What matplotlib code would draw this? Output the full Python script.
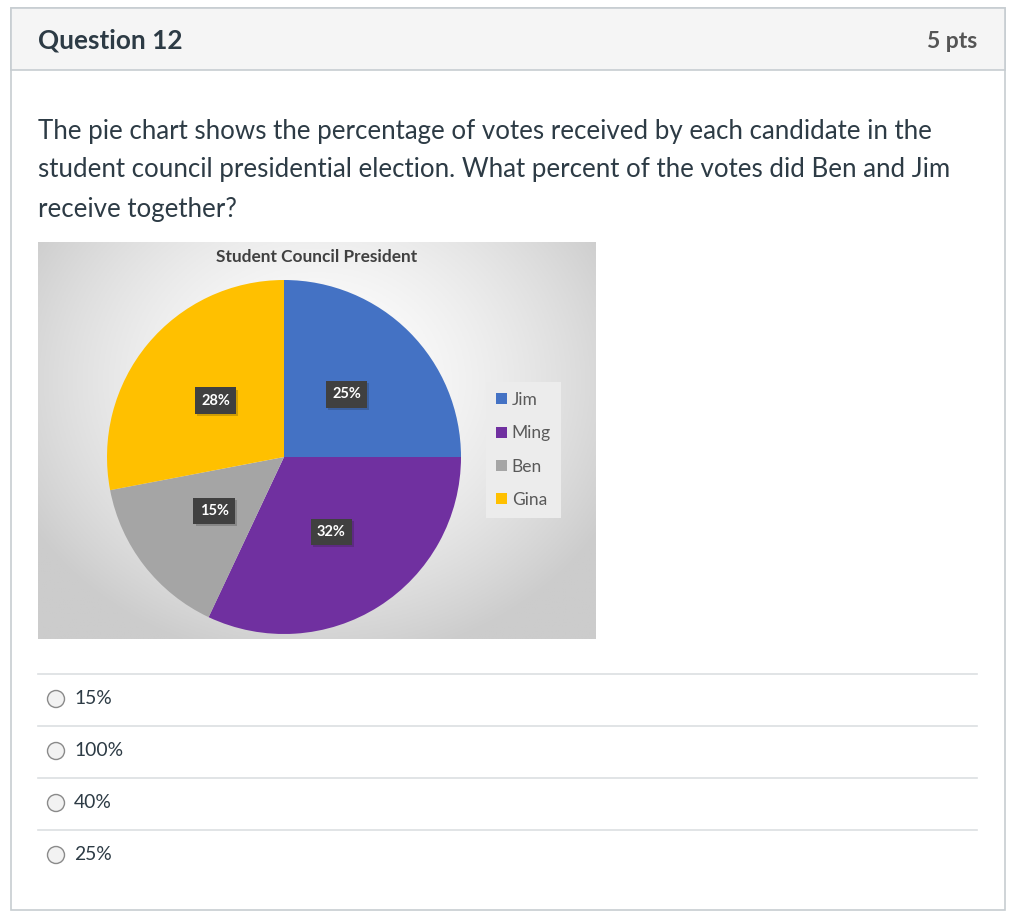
import numpy as np
import matplotlib.pyplot as plt
from matplotlib.patches import Rectangle, Circle
from matplotlib import patheffects

# chart data
candidates = ['Jim', 'Ming', 'Ben', 'Gina']
votes_pct = [25, 32, 15, 28]
slice_colors = ['#4472C4', '#7030A0', '#A5A5A5', '#FFC000']

# quiz text
question_title = 'Question 12'
points = '5 pts'
question_lines = [
    'The pie chart shows the percentage of votes received by each candidate in the',
    'student council presidential election. What percent of the votes did Ben and Jim',
    'receive together?',
]
answers = ['15%', '100%', '40%', '25%']

W, H = 1024, 916
TEXT = '#2d3b45'


def fx(x):
    return x / W


def fy(y):
    return 1 - y / H


def main():
    plt.rcParams['font.family'] = ['Lato', 'DejaVu Sans']
    fig = plt.figure(figsize=(W / 100, H / 100), dpi=100)

    # page layer in pixel coordinates
    page = fig.add_axes([0, 0, 1, 1])
    page.set_xlim(0, W)
    page.set_ylim(H, 0)
    page.axis('off')

    page.add_patch(Rectangle((11, 8), 994, 902, fc='white', ec='#c7cdd1', lw=1.2))
    page.add_patch(Rectangle((11, 8), 994, 62, fc='#f5f5f5', ec='#c7cdd1', lw=1.2))
    page.text(38, 41, question_title, fontsize=18.8, fontweight='bold', color=TEXT, va='center')
    page.text(977, 41, points, fontsize=16.5, fontweight='bold', color='#555555',
              va='center', ha='right')

    for i, line in enumerate(question_lines):
        page.text(38, 131 + i * 39, line, fontsize=18.6, color=TEXT, va='center')

    # answer rows
    for i, ans in enumerate(answers):
        y_line = 674 + i * 52
        page.plot([38, 977], [y_line, y_line], color='#dcdfe2', lw=1.2)
        cy = y_line + 25
        page.add_patch(Circle((56, cy), 8.5, fc='#f2f2f2', ec='#8a8a8a', lw=1))
        page.text(74, cy, ans, fontsize=13.9, color=TEXT, va='center')

    # chart background with soft radial gradient
    x0, y0, x1, y1 = 38, 242, 596, 639
    bg = fig.add_axes([fx(x0), fy(y1), fx(x1 - x0), (y1 - y0) / H])
    gx, gy = np.meshgrid(np.linspace(0, 1, 300), np.linspace(0, 1, 220))
    dist = np.sqrt(((gx - 0.5) / 0.75) ** 2 + ((gy - 0.35) / 0.9) ** 2)
    shade = 1.0 - 0.2 * np.clip(dist / 0.8, 0, 1) ** 1.6
    bg.imshow(np.dstack([shade] * 3), extent=(0, 1, 1, 0), aspect='auto')
    bg.set_xlim(0, 1)
    bg.set_ylim(1, 0)
    bg.axis('off')
    bg.text(0.5, (257 - y0) / (y1 - y0), 'Student Council President',
            fontsize=12.4, fontweight='bold', color='#404040', ha='center', va='center')

    # pie
    cx, cy, r = 284, 457, 177
    ax = fig.add_axes([fx(cx - r), fy(cy + r), 2 * r / W, 2 * r / H])
    wedges, _, autotexts = ax.pie(
        votes_pct, colors=slice_colors, startangle=90, counterclock=False,
        autopct='%d%%', pctdistance=0.5, radius=1,
        textprops=dict(color='white', fontweight='bold', fontsize=10.5),
    )
    ax.set_xlim(-1, 1)
    ax.set_ylim(-1, 1)
    for t in autotexts:
        t.set_bbox(dict(boxstyle='square,pad=0.42', fc='#404040', ec='none'))
        t.get_bbox_patch().set_path_effects([
            patheffects.SimplePatchShadow(offset=(1.5, -1.5), alpha=0.2),
            patheffects.Normal(),
        ])

    ax.legend(wedges, candidates, loc='center',
              bbox_to_anchor=(fx(523.5), fy(450)), bbox_transform=fig.transFigure,
              frameon=True, facecolor='#ececec', edgecolor='none', framealpha=1,
              fancybox=False, fontsize=12.5, labelcolor='#595959',
              handlelength=0.6, handleheight=0.6, handletextpad=0.3,
              labelspacing=1.0, borderpad=0.6, borderaxespad=0)

    fig.savefig('out.png', dpi=100)


if __name__ == '__main__':
    main()
